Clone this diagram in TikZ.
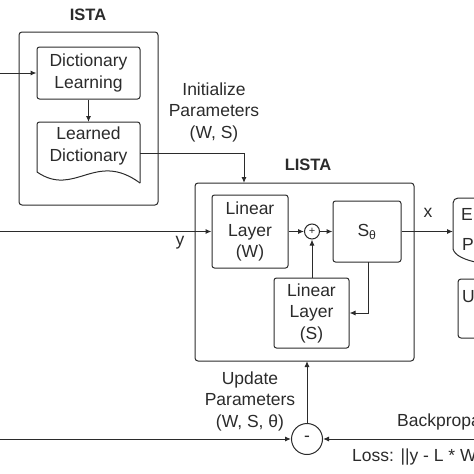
\documentclass[tikz,border=0pt]{standalone}
\usepackage{fontspec}
\setmainfont{Liberation Sans}
\usetikzlibrary{arrows.meta}
\definecolor{ink}{HTML}{2B2B2B}
\tikzset{
  box/.style={draw=ink, line width=1pt, rounded corners=2.5pt, inner sep=0pt, align=center, text=ink},
  lbl/.style={align=center, text=ink, inner sep=0pt},
  ttl/.style={text=ink, inner sep=0pt, font=\fontsize{16.5}{19}\selectfont\bfseries},
  conn/.style={draw=ink, line width=1pt, -{Latex[length=6pt,width=5pt]}},
  wire/.style={draw=ink, line width=1pt},
}
\begin{document}
\begin{tikzpicture}[x=1pt,y=-1pt, font=\fontsize{17.5}{21.5}\selectfont]
\useasboundingbox (0,0) rectangle (474,474);
\clip (0,0) rectangle (474,474);
% ISTA
\node[ttl] (istat) at (88,15) {ISTA};
\draw[wire, rounded corners=3pt] (19,32) rectangle (158,205);
\node[box, minimum width=103pt, minimum height=52pt] (dl) at (88.5,73) {Dictionary\\Learning};
\draw[wire, rounded corners=2.5pt] (37,172) -- (37,122) -- (140,122) -- (140,183);
\draw[wire] (140,183) .. controls (95,150) and (75,198) .. (37,172);
\node[lbl] (ld) at (88.5,146) {Learned\\Dictionary};
\coordinate (ldr) at (140,153);
\coordinate (ldt) at (88.5,122);
\coordinate (inA) at (0,73);
\draw[conn] (inA) -- (dl.west);
\draw[conn] (dl.south) -- (ldt);
\node[lbl] (init) at (214,112) {Initialize\\Parameters\\(W, S)};
% LISTA
\node[ttl] (listat) at (308,165) {LISTA};
\draw[wire, rounded corners=3pt] (195,183) rectangle (414,361);
\coordinate (listatop) at (244,183);
\draw[conn] (ldr) -| (listatop);
\node[box, minimum width=76pt, minimum height=73pt] (llw) at (250,231.5) {Linear\\Layer\\(W)};
\node[draw=ink, line width=1pt, circle, minimum size=15pt, inner sep=0pt, text=ink, font=\fontsize{11}{11}\selectfont] (plus) at (312,231.5) {+};
\node[box, minimum width=68pt, minimum height=61pt] (st) at (367,231.5) {S\textsubscript{θ}};
\node[box, minimum width=75pt, minimum height=70pt] (lls) at (311.5,313) {Linear\\Layer\\(S)};
\draw[conn] (llw.east) -- (plus.west);
\draw[conn] (plus.east) -- (st.west);
\draw[conn] (lls.north -| plus) -- (plus.south);
\coordinate (stb) at (368,262);
\draw[conn] (stb) |- (lls.east);
\coordinate (yin) at (0,231.5);
\draw[conn] (yin) -- (llw.west);
\node[lbl] (ylbl) at (180,243) {y};
% right side
\draw[wire, rounded corners=5pt] (485,198) -- (453,198) -- (453,249);
\draw[wire] (453,249) .. controls (455,255) and (462,260) .. (485,264);
\coordinate (ein) at (453,231.5);
\draw[conn] (st.east) -- (ein);
\node[lbl] (xlbl) at (428,213) {x};
\node[lbl, anchor=west] (etxt) at (461,214) {E};
\node[lbl, anchor=west] (ptxt) at (462,244) {P};
\draw[wire, rounded corners=3pt] (490,279) -- (458,279) -- (458,338) -- (490,338);
\node[lbl, anchor=west] (utxt) at (462,297) {U};
% bottom
\node[lbl] (upd) at (250,401) {Update\\Parameters\\(W, S, θ)};
\node[draw=ink, line width=1pt, circle, minimum size=31pt, inner sep=0pt, text=ink] (minus) at (307,439) {-};
\coordinate (listab) at (307,361);
\draw[conn] (minus.north) -- (listab);
\coordinate (lin) at (0,439);
\coordinate (rin) at (474,439);
\draw[conn] (lin) -- (minus.west);
\draw[conn] (rin) -- (minus.east);
\node[lbl, anchor=west] (bp) at (397,422) {Backpropa};
\node[lbl, anchor=west] (loss) at (352,457) {Loss: ||y - L * W};
\end{tikzpicture}
\end{document}
